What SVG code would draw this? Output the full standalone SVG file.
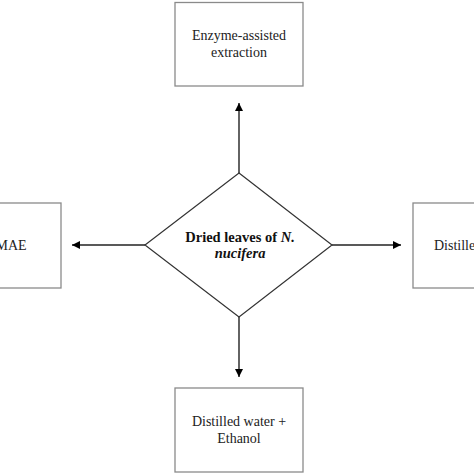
<svg xmlns="http://www.w3.org/2000/svg" width="474" height="474" viewBox="0 0 474 474">
<defs>
<marker id="ah" viewBox="0 0 10 10" refX="10" refY="5" markerWidth="8" markerHeight="8" markerUnits="userSpaceOnUse" orient="auto">
<path d="M0,0 L10,5 L0,10 Z" fill="#000"/>
</marker>
</defs>
<style>
.box{fill:#fff;stroke:#8a8a8a;stroke-width:1.3}
.dia{fill:#fff;stroke:#333;stroke-width:1.2}
.t{font-family:"Liberation Serif","Times New Roman",serif;font-size:14px;fill:#222;text-anchor:middle}
.b{font-weight:bold;font-size:14.5px;fill:#111}
.conn{stroke:#222;stroke-width:1.4;fill:none}
</style>
<rect width="474" height="474" fill="#fff"/>
<g id="connectors">
<line class="conn" x1="239" y1="173" x2="239" y2="103" marker-end="url(#ah)"/>
<line class="conn" x1="145" y1="245" x2="72" y2="245" marker-end="url(#ah)"/>
<line class="conn" x1="332" y1="245" x2="401" y2="245" marker-end="url(#ah)"/>
<line class="conn" x1="239" y1="317" x2="239" y2="377" marker-end="url(#ah)"/>
</g>
<g id="center">
<polygon class="dia" points="239,173 332,245 239,317 145,245"/>
<text class="t b" x="240" y="242">Dried leaves of <tspan font-style="italic">N.</tspan></text>
<text class="t b" x="240" y="258" font-style="italic">nucifera</text>
</g>
<g id="enzyme">
<rect class="box" x="175" y="2.5" width="128" height="83.5"/>
<text class="t" x="239" y="40">Enzyme-assisted</text>
<text class="t" x="239" y="57">extraction</text>
</g>
<g id="mae">
<rect class="box" x="-40" y="203" width="101" height="85"/>
<text class="t" x="11" y="250">MAE</text>
</g>
<g id="distilled">
<rect class="box" x="413" y="203" width="128" height="85"/>
<text class="t" x="434" y="250" style="text-anchor:start">Distilled</text>
</g>
<g id="water-ethanol">
<rect class="box" x="175" y="388" width="128" height="84"/>
<text class="t" x="239" y="426">Distilled water +</text>
<text class="t" x="239" y="443">Ethanol</text>
</g>
</svg>
